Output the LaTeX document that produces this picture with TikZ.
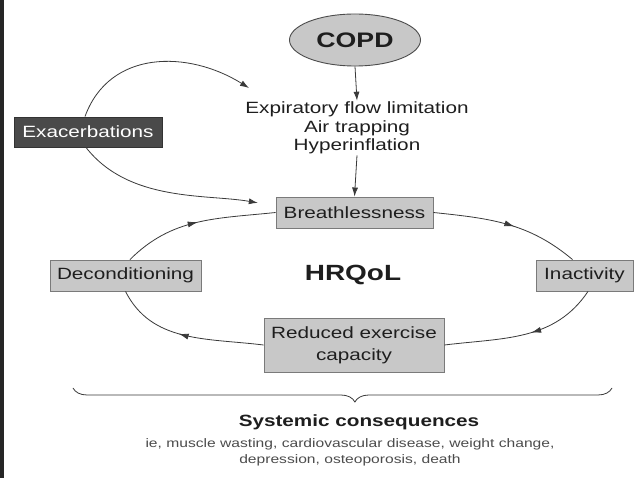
\documentclass[tikz,border=0pt]{standalone}
\usepackage{fontspec}
\setmainfont{Liberation Sans}[FakeStretch=1.27]
\usetikzlibrary{arrows.meta,decorations.markings,decorations.pathreplacing,shapes.geometric}
\definecolor{boxfill}{HTML}{C8C8C8}
\definecolor{boxline}{HTML}{7A7A7A}
\definecolor{darkfill}{HTML}{4A4A4A}
\definecolor{ink}{HTML}{1E1E1E}
\definecolor{lineink}{HTML}{3A3A3A}
\tikzset{
  graybox/.style={draw=boxline, fill=boxfill, line width=0.9pt, inner sep=0pt, text=ink,
    font=\fontsize{16.3}{22}\selectfont, align=center},
  darkbox/.style={draw=black!80, fill=darkfill, line width=0.9pt, inner sep=0pt, text=white,
    font=\fontsize{16.3}{18.5}\selectfont},
  conn/.style={draw=lineink, line width=0.8pt},
  tip/.style={-{Latex[length=9pt,width=6pt]}},
  midarrow/.style={postaction={decorate}, decoration={markings,
    mark=at position #1 with {\arrow{Latex[length=10pt,width=6pt]}}}},
}
\begin{document}
\begin{tikzpicture}[x=1pt,y=1pt]
\useasboundingbox (0,0) rectangle (638,-478);
\fill[white] (0,0) rectangle (638,-478);
\fill[black!85] (0,0) rectangle (4,-478);

\node[ellipse, draw=black!70, fill=boxfill, line width=0.9pt, minimum width=131pt, minimum height=52pt, inner sep=0pt,
  font=\fontsize{21}{24}\selectfont\bfseries, text=ink] (copd) at (355,-40) {COPD};
\node[align=center, inner sep=1pt, text=ink, font=\fontsize{16.3}{18.5}\selectfont] (mech) at (357,-128)
  {Expiratory flow limitation\\Air trapping\\Hyperinflation};
\node[graybox, minimum width=157pt, minimum height=31pt] (breath) at (354.5,-212.5) {Breathlessness};
\node[graybox, minimum width=151pt, minimum height=31pt] (decond) at (125.5,-275.5) {Deconditioning};
\node[graybox, minimum width=97pt, minimum height=31pt] (inact) at (584.5,-275.5) {Inactivity};
\node[graybox, minimum width=180pt, minimum height=54pt] (reduced) at (354,-345) {Reduced exercise\\capacity};
\node[darkbox, minimum width=148pt, minimum height=30pt] (exac) at (88,-132) {Exacerbations};
\node[font=\fontsize{22}{24}\selectfont\bfseries, text=ink] (hrqol) at (353,-275) {HRQoL};

\coordinate (exactip) at (249,-88);

\draw[conn, tip] (copd.south) -- (mech.north);
\draw[conn, tip] (mech.south) -- (breath.north);
\draw[conn, tip] ([xshift=-3pt]exac.north) to[out=70, in=148, looseness=1.1] (exactip);
\draw[conn, tip, shorten >=18pt] ([xshift=-2pt]exac.south) to[out=-52, in=170, looseness=0.9] ([yshift=6.5pt]breath.west);

\draw[conn, midarrow=0.5] ([xshift=4.5pt]decond.north) to[out=45, in=186] (breath.west);
\draw[conn, midarrow=0.55] (breath.east) to[out=-6, in=140] ([xshift=-12pt]inact.north);
\draw[conn, midarrow=0.45] ([xshift=3.5pt]inact.south) to[out=-124, in=7] (reduced.east);
\draw[conn, midarrow=0.55] (reduced.west) to[out=173, in=-63] (decond.south);

\draw[draw=lineink, line width=0.8pt, decorate, decoration={brace, mirror, amplitude=14pt, aspect=0.523}]
  (73,-388) -- (612,-388);

\node[font=\fontsize{16.3}{18}\selectfont\bfseries, text=ink] (sys) at (359,-422) {Systemic consequences};
\node[align=center, font=\fontsize{12.3}{16}\selectfont, text=black!70] (detail) at (350,-452)
  {ie, muscle wasting, cardiovascular disease, weight change,\\depression, osteoporosis, death};
\end{tikzpicture}
\end{document}
